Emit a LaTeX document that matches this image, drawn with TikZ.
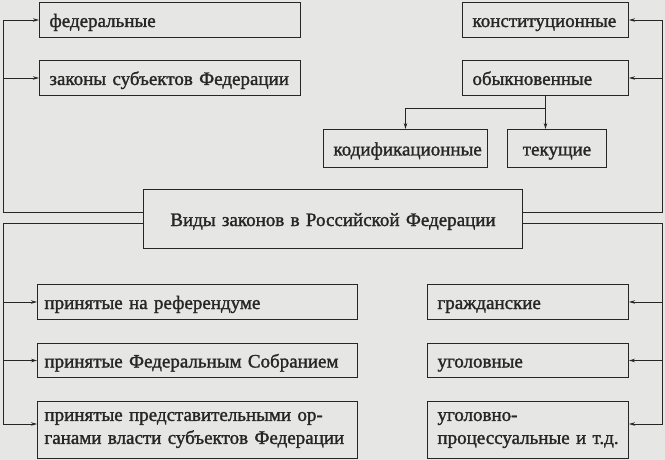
\documentclass[tikz,border=0pt]{standalone}
\usepackage{fontspec}
\setmainfont{Liberation Serif}[FakeBold=1.5]
\usepackage{tikz}
\usetikzlibrary{arrows.meta}
\definecolor{ink}{HTML}{262626}
\definecolor{paper}{HTML}{E6E6E4}

\begin{document}
\begin{tikzpicture}[
  x=1pt,y=-1pt,
  box/.style={draw=ink,line width=1pt,text=ink,anchor=north west,inner xsep=10pt,
              inner ysep=2pt,align=left,font=\fontsize{19}{23}\selectfont},
  one/.style={box,text height=15pt,text depth=1pt},
  arr/.style={-{Stealth[length=6pt,width=3.5pt]},line width=0.8pt,color=ink}
]
\fill[paper] (0,0) rectangle (665,460);
\useasboundingbox (0,0) rectangle (665,460);
% upper row
\node[one,minimum width=261pt,minimum height=35pt,text width=241pt] (fed) at (39,2) {федеральные};
\node[one,minimum width=261pt,minimum height=35pt,text width=241pt] (subj) at (39,60) {законы субъектов Федерации};
\node[one,minimum width=166pt,minimum height=35pt,text width=146pt] (konst) at (462,2) {конституционные};
\node[one,minimum width=166pt,minimum height=35pt,text width=146pt] (obykn) at (462,60) {обыкновенные};
\node[one,align=center,minimum width=164pt,minimum height=38pt,text width=144pt] (kodif) at (323,129) {кодификационные};
\node[one,align=center,minimum width=99pt,minimum height=38pt,text width=79pt] (tek) at (507,129) {текущие};
% centre
\node[one,align=center,minimum width=379pt,minimum height=59pt,text width=359pt] (main) at (143,189) {Виды законов в Российской Федерации};
% lower row
\node[one,inner xsep=7pt,minimum width=320pt,minimum height=35pt,text width=306pt] (ref) at (37,284) {принятые на референдуме};
\node[one,inner xsep=7pt,minimum width=320pt,minimum height=34pt,text width=306pt] (fedsob) at (37,343) {принятые Федеральным Собранием};
\node[box,inner xsep=7pt,minimum width=320pt,minimum height=57pt,text width=306pt] (predst) at (37,401) {принятые представительными ор-\\ганами власти субъектов Федерации};
\node[one,minimum width=201pt,minimum height=35pt,text width=181pt] (grazh) at (427,284) {гражданские};
\node[one,minimum width=201pt,minimum height=34pt,text width=181pt] (ugol) at (427,343) {уголовные};
\node[box,inner xsep=6pt,minimum width=201pt,minimum height=57pt,text width=189pt] (upk) at (427,401) {\hspace*{4pt}уголовно-\\\hspace*{4pt}процессуальные~и~т.д.};
% bus points
\coordinate (lup) at (3,212);
\coordinate (ldown) at (3,223);
\coordinate (rup) at (662,212);
\coordinate (rdown) at (662,223);
\coordinate (split) at ([yshift=-12pt]obykn.south);
% connectors
\draw[arr] (main.west |- lup) -- (lup) |- (fed.west);
\draw[arr] (lup) |- (subj.west);
\draw[arr] (main.west |- ldown) -- (ldown) |- ([yshift=6pt]predst.west);
\draw[arr] (ldown) |- (ref.west);
\draw[arr] (ldown) |- (fedsob.west);
\draw[arr] (main.east |- rup) -- (rup) |- (konst.east);
\draw[arr] (rup) |- (obykn.east);
\draw[arr] (main.east |- rdown) -- (rdown) |- ([yshift=6pt]upk.east);
\draw[arr] (rdown) |- (grazh.east);
\draw[arr] (rdown) |- (ugol.east);
\draw[arr] (obykn.south) -- (obykn.south |- tek.north);
\draw[arr] (split) -| (kodif.north);
\end{tikzpicture}
\end{document}
